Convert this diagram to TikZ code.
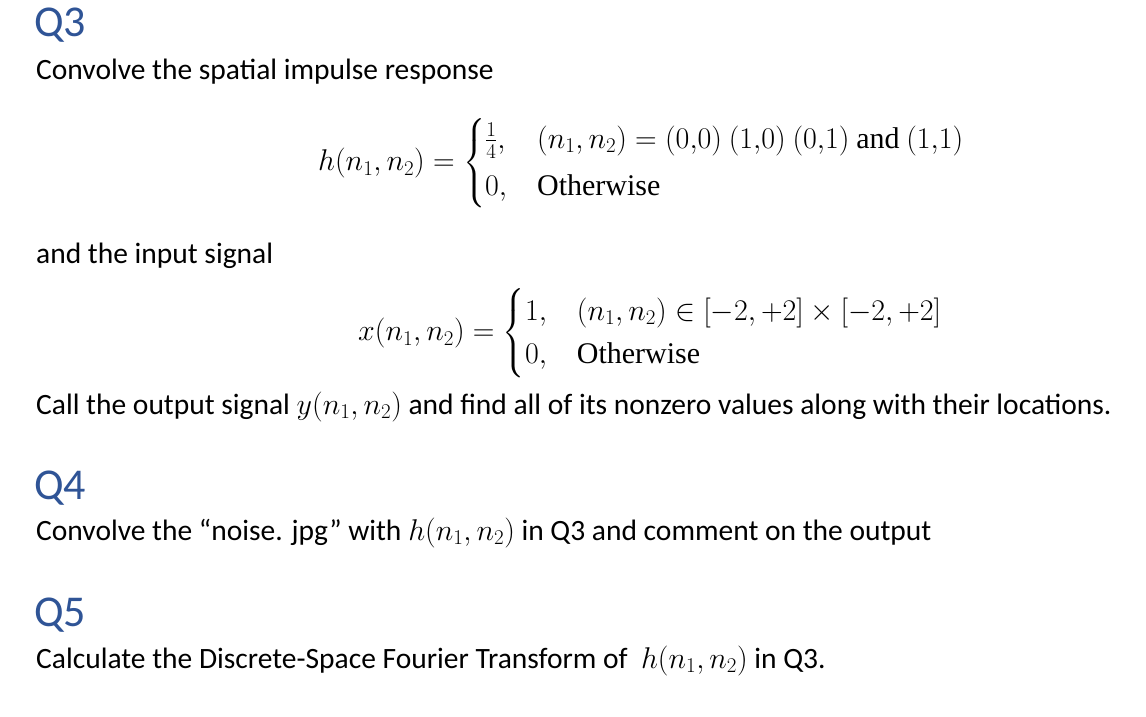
\RequirePackage{fix-cm}
\documentclass[tikz,border=0pt]{standalone}
\usepackage{amsmath}
\usepackage{fontspec}
\setmainfont{Carlito}
\definecolor{head}{HTML}{2F5496}
\newcommand{\mathsz}{\fontsize{30}{36}\selectfont}
\newcommand{\txtsz}{\fontsize{29.5}{35}\selectfont}
\begin{document}
\begin{tikzpicture}[x=1pt,y=-1pt,
  txt/.style={anchor=base west,inner sep=0pt,font=\txtsz},
  hd/.style={anchor=base west,inner sep=0pt,text=head,font=\fontsize{44}{52}\selectfont},
  eq/.style={anchor=west,inner sep=0pt,font=\mathsz}]
\useasboundingbox (0,0) rectangle (1146,716);
\node[hd] (q3) at (34,36) {Q3};
\node[txt] (t1) at (36,79) {Convolve the spatial impulse response};
\node[eq] (h) at (318,163) {$h(n_1,n_2)=\begin{cases}\frac{1}{4}, & (n_1,n_2)=(0{,}0)\ (1{,}0)\ (0{,}1)\ \text{\fontspec{Liberation Serif}and}\ (1{,}1)\\[4pt] 0, & \text{\fontspec{Liberation Serif}Otherwise}\end{cases}$};
\node[txt] (t2) at (36,263) {and the input signal};
\node[eq] (x) at (358,333) {$x(n_1,n_2)=\begin{cases}1, & (n_1,n_2)\in[-2,+2]\times[-2,+2]\\ 0, & \text{\fontspec{Liberation Serif}Otherwise}\end{cases}$};
\node[txt] (t3) at (36,414) {Call the output signal \mathsz$y(n_1,n_2)$\txtsz{} and find all of its nonzero values along with their locations.};
\node[hd] (q4) at (34,499) {Q4};
\node[txt] (t4) at (36,540) {Convolve the “noise. jpg” with \mathsz$h(n_1,n_2)$\txtsz{} in Q3 and comment on the output};
\node[hd] (q5) at (34,626) {Q5};
\node[txt] (t5) at (36,668) {Calculate the Discrete-Space Fourier Transform of \ \mathsz$h(n_1,n_2)$\txtsz{} in Q3.};
\end{tikzpicture}
\end{document}
